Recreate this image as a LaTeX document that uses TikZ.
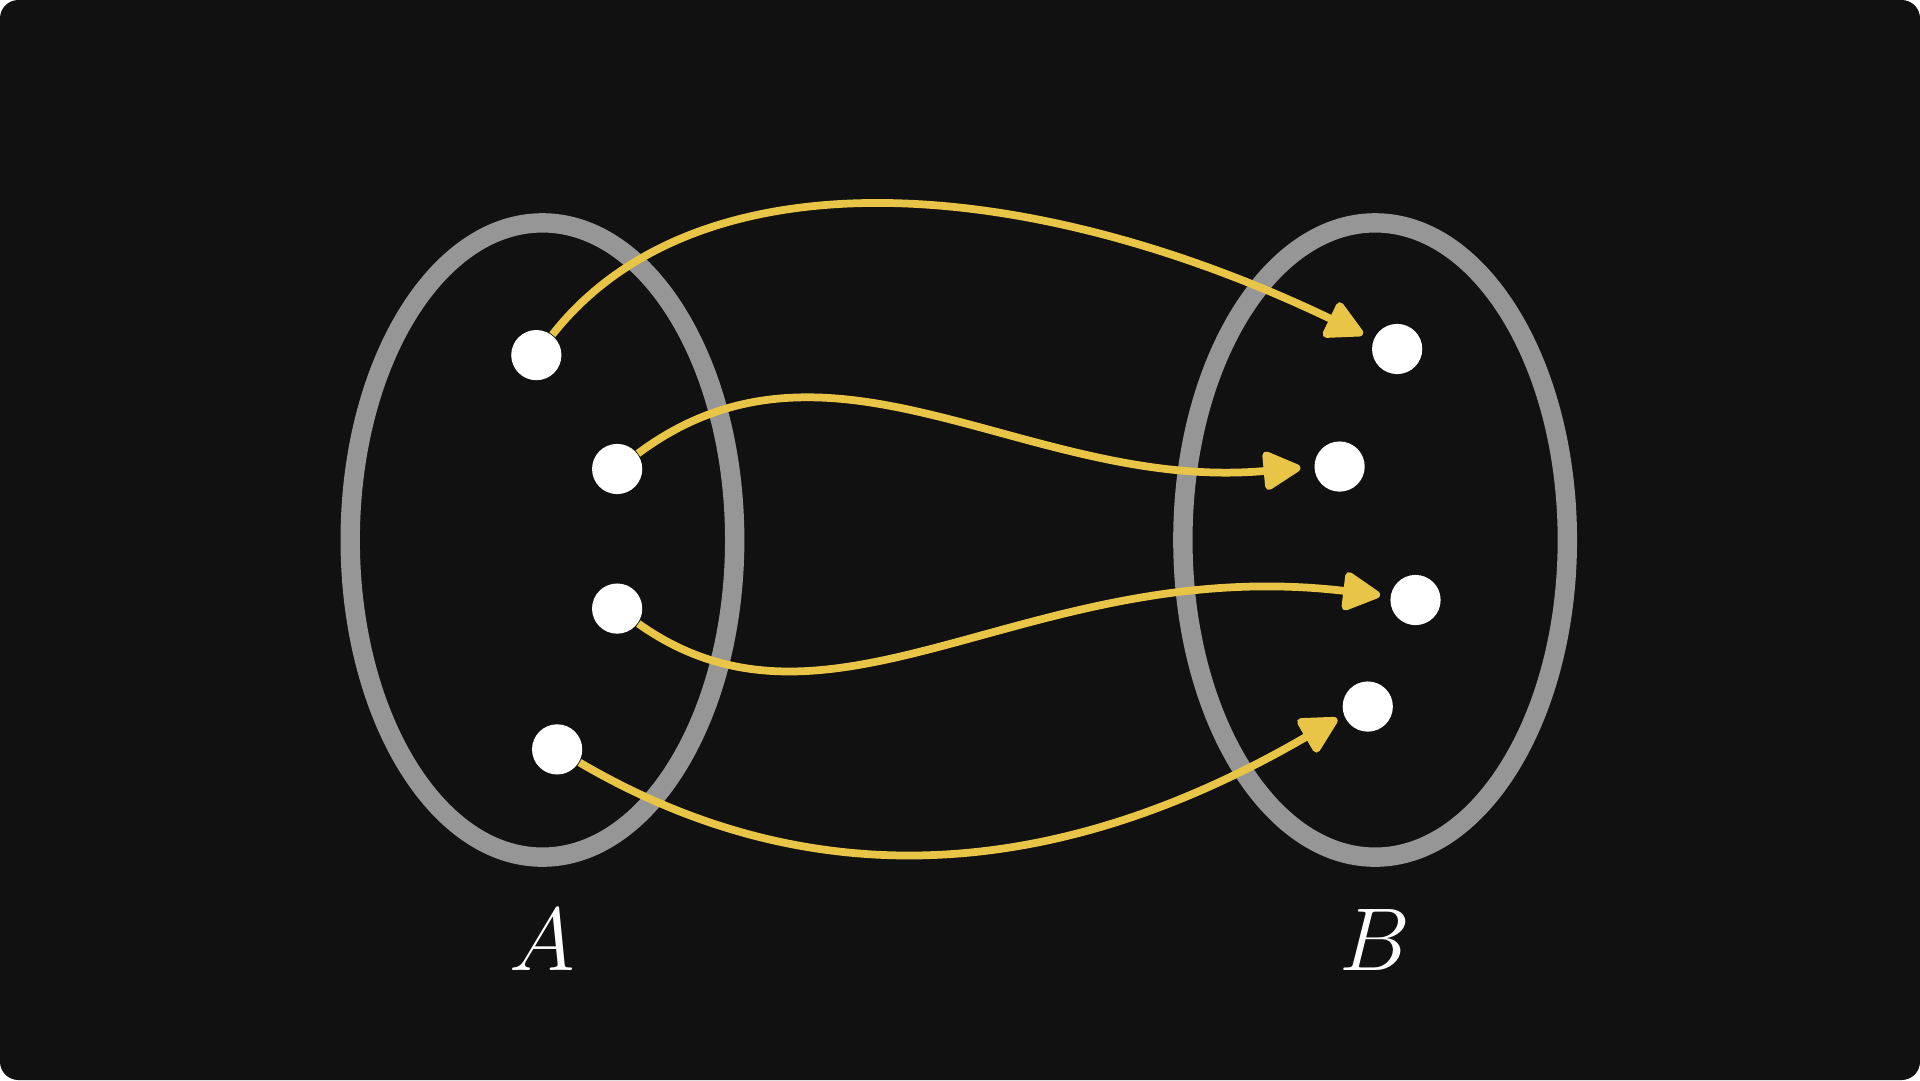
\documentclass[tikz,border=0pt]{standalone}
\usepackage{tikz}
\usetikzlibrary{arrows.meta, positioning}
\definecolor{bgdark}{HTML}{111111}
\definecolor{setgray}{HTML}{969696}
\definecolor{mapgold}{HTML}{E8C547}

\begin{document}
\begin{tikzpicture}[
    % styles for sets, elements and the mapping arrows
    setring/.style={draw=setgray, line width=4.5pt},
    elem/.style={circle, fill=white, minimum size=0.41cm, inner sep=0pt},
    mapline/.style={draw=mapgold, line width=1.8pt,
        -{Triangle[length=0.34cm, width=0.34cm, round]}},
    setlabel/.style={text=white, font=\fontsize{21}{25}\selectfont}
]
    % background
    \fill[bgdark, rounded corners=0.15cm] (0,0) rectangle (15.68,8.82);
    \useasboundingbox (0,0) rectangle (15.68,8.82);

    % Sets
    \draw[setring] (4.43,4.41) ellipse [x radius=1.57, y radius=2.59];
    \draw[setring] (11.23,4.41) ellipse [x radius=1.57, y radius=2.59];

    % Elements
    \node [elem] (a1) at (4.38,5.92) {};
    \node [elem] (a2) at (5.04,4.99) {};
    \node [elem] (a3) at (5.04,3.85) {};
    \node [elem] (a4) at (4.55,2.70) {};
    \node [elem] (b1) at (11.41,5.97) {};
    \node [elem] (b2) at (10.94,5.01) {};
    \node [elem] (b3) at (11.56,3.92) {};
    \node [elem] (b4) at (11.17,3.05) {};

    % Arrow tips
    \coordinate (t1) at (11.13,6.09);
    \coordinate (t2) at (10.62,5.00);
    \coordinate (t3) at (11.27,3.96);
    \coordinate (t4) at (10.92,2.95);

    % Paths (Arrows)
    \path [mapline] (a1) .. controls (5.7,7.6) and (8.4,7.4) .. (t1);
    \path [mapline] (a2) .. controls (6.8,6.3) and (8.4,4.8) .. (t2);
    \path [mapline] (a3) .. controls (6.8,2.6) and (8.4,4.3) .. (t3);
    \path [mapline] (a4) .. controls (6.6,1.5) and (8.6,1.6) .. (t4);

    % Labels
    \node [setlabel] (la) at (4.43,1.14) {$A$};
    \node [setlabel] (lb) at (11.23,1.14) {$B$};
\end{tikzpicture}
\end{document}
